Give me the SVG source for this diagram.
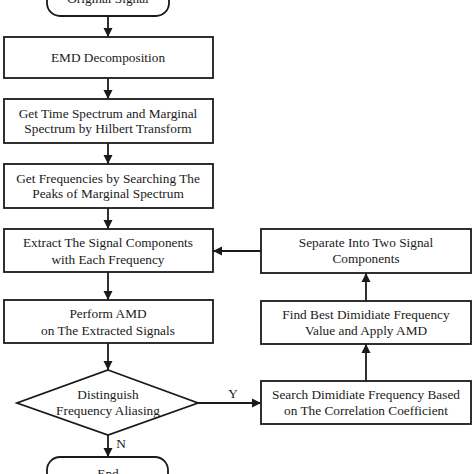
<svg xmlns="http://www.w3.org/2000/svg" width="474" height="474" viewBox="0 0 474 474">
<style>
.box{fill:#fff;stroke:#1a1a1a;stroke-width:1.8}
.t{font-family:'Liberation Serif','Times New Roman',serif;font-size:13.3px;fill:#1a1a1a;text-anchor:middle}
.c{fill:none;stroke:#1a1a1a;stroke-width:1.8}
</style>
<defs>
<marker id="ah" markerWidth="10" markerHeight="10" refX="9" refY="5" orient="auto" markerUnits="userSpaceOnUse">
<path d="M0,0.5 L9,5 L0,9.5 Z" fill="#1a1a1a"/>
</marker>
</defs>
<rect width="474" height="474" fill="#fff"/>
<g id="connectors">
<line class="c" x1="108" y1="16" x2="108" y2="37" marker-end="url(#ah)"/>
<line class="c" x1="108" y1="78" x2="108" y2="99" marker-end="url(#ah)"/>
<line class="c" x1="108" y1="143" x2="108" y2="164" marker-end="url(#ah)"/>
<line class="c" x1="108" y1="208" x2="108" y2="229" marker-end="url(#ah)"/>
<line class="c" x1="108" y1="272" x2="108" y2="300" marker-end="url(#ah)"/>
<line class="c" x1="108" y1="343" x2="108" y2="370" marker-end="url(#ah)"/>
<line class="c" x1="108" y1="435" x2="108" y2="457" marker-end="url(#ah)"/>
<line class="c" x1="198" y1="403" x2="261" y2="403" marker-end="url(#ah)"/>
<line class="c" x1="366" y1="381" x2="366" y2="344" marker-end="url(#ah)"/>
<line class="c" x1="366" y1="301" x2="366" y2="273" marker-end="url(#ah)"/>
<line class="c" x1="261" y1="251" x2="213" y2="251" marker-end="url(#ah)"/>
<text class="t" x="121" y="448">N</text>
<text class="t" x="233" y="398">Y</text>
</g>
<g id="start">
<rect class="box" x="47" y="-14" width="122" height="30" rx="13"/>
<text class="t" x="108" y="3">Original Signal</text>
</g>
<g id="emd">
<rect class="box" x="4" y="37" width="209" height="41"/>
<text class="t" x="108" y="62">EMD Decomposition</text>
</g>
<g id="hilbert">
<rect class="box" x="4" y="99" width="209" height="44"/>
<text class="t" x="108" y="118">Get Time Spectrum and Marginal</text>
<text class="t" x="108" y="133">Spectrum by Hilbert Transform</text>
</g>
<g id="peaks">
<rect class="box" x="4" y="164" width="209" height="44"/>
<text class="t" x="108" y="183">Get Frequencies by Searching The</text>
<text class="t" x="108" y="198">Peaks of Marginal Spectrum</text>
</g>
<g id="extract">
<rect class="box" x="4" y="229" width="209" height="43"/>
<text class="t" x="108" y="247">Extract The Signal Components</text>
<text class="t" x="108" y="264">with Each Frequency</text>
</g>
<g id="amd">
<rect class="box" x="4" y="300" width="209" height="43"/>
<text class="t" x="108" y="318">Perform AMD</text>
<text class="t" x="108" y="335">on The Extracted Signals</text>
</g>
<g id="aliasing">
<polygon class="box" points="108,370 198,403 108,435 17,403"/>
<text class="t" x="108" y="399">Distinguish</text>
<text class="t" x="108" y="415">Frequency Aliasing</text>
</g>
<g id="end">
<rect class="box" x="47" y="457" width="121" height="30" rx="13"/>
<text class="t" x="108" y="478">End</text>
</g>
<g id="separate">
<rect class="box" x="261" y="229" width="210" height="44"/>
<text class="t" x="366" y="247">Separate Into Two Signal</text>
<text class="t" x="366" y="263">Components</text>
</g>
<g id="findbest">
<rect class="box" x="261" y="301" width="210" height="43"/>
<text class="t" x="366" y="319">Find Best Dimidiate Frequency</text>
<text class="t" x="366" y="335">Value and Apply AMD</text>
</g>
<g id="search">
<rect class="box" x="261" y="381" width="210" height="43"/>
<text class="t" x="366" y="399">Search Dimidiate Frequency Based</text>
<text class="t" x="366" y="415">on The Correlation Coefficient</text>
</g>
</svg>
